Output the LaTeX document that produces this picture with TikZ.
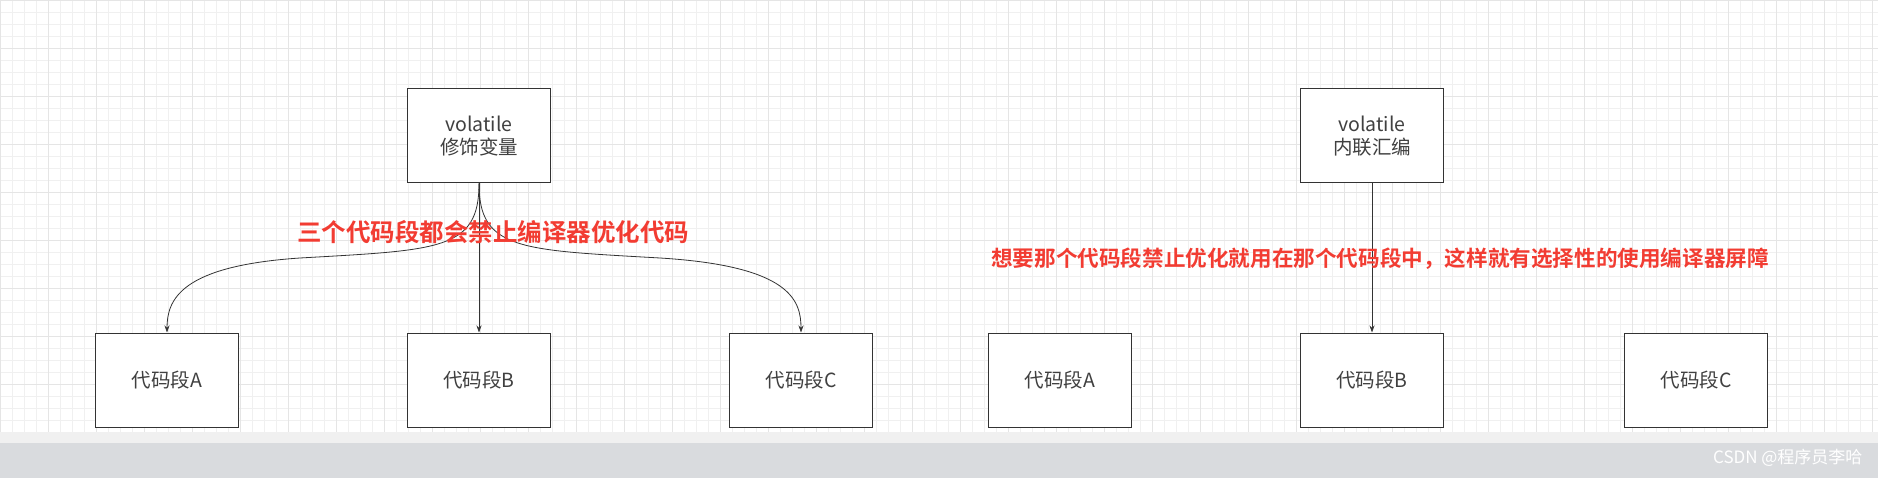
\documentclass[tikz,border=0pt]{standalone}
\usepackage{fontspec}
\newfontfamily\cjk{Noto Sans CJK SC}
\newfontfamily\cjkb{Noto Sans CJK SC Bold}
\usetikzlibrary{arrows.meta}
\definecolor{redtxt}{HTML}{F23C32}
\definecolor{edge}{HTML}{333333}
\definecolor{band}{HTML}{D9DBDE}
\tikzset{x=1pt,y=-1pt,
 blk/.style={draw=edge,line width=1pt,fill=white,minimum width=143pt,minimum height=94pt,font=\cjk\fontsize{19.5}{23}\selectfont,text=black!75,align=center},
 conn/.style={draw=edge,line width=0.8pt,-{Stealth[length=7pt,width=5pt]}},
 note/.style={text=redtxt,font=\cjkb}}
\begin{document}
\begin{tikzpicture}
\useasboundingbox (0,0) rectangle (1878,478);
\fill[white] (0,0) rectangle (1878,432);
\draw[black!6,line width=0.5pt,step=12pt] (0,0) grid (1878,432);
\draw[black!10,line width=0.6pt,step=48pt] (0,0) grid (1878,432);
\fill[black!6] (0,432) rectangle (1878,443);
\fill[band] (0,443) rectangle (1878,478);
% left
\node[blk] (v1) at (479,136) {volatile\\修饰变量};
\node[blk] (a1) at (167,380) {代码段A};
\node[blk] (b1) at (479,380) {代码段B};
\node[blk] (c1) at (801,380) {代码段C};
\draw[conn] (v1.south) .. controls (479,250) and (440,250) .. (300,258) .. controls (180,266) and (167,300) .. (a1.north);
\draw[conn] (v1.south) -- (b1.north);
\draw[conn] (v1.south) .. controls (479,250) and (520,250) .. (660,258) .. controls (790,266) and (801,300) .. (c1.north);
\node[note,font=\cjkb\fontsize{24.5}{28}\selectfont] (t1) at (493,232) {三个代码段都会禁止编译器优化代码};
% right
\node[blk] (v2) at (1372,136) {volatile\\内联汇编};
\node[blk] (a2) at (1060,380) {代码段A};
\node[blk] (b2) at (1372,380) {代码段B};
\node[blk] (c2) at (1696,380) {代码段C};
\draw[conn] (v2.south) -- (b2.north);
\node[note,font=\cjkb\fontsize{21.6}{25}\selectfont] (t2) at (1380,259) {想要那个代码段禁止优化就用在那个代码段中，这样就有选择性的使用编译器屏障};
\node[text=white,font=\cjk\fontsize{17}{19}\selectfont,anchor=east] (wm) at (1866,458) {CSDN @程序员李哈};
\end{tikzpicture}
\end{document}
